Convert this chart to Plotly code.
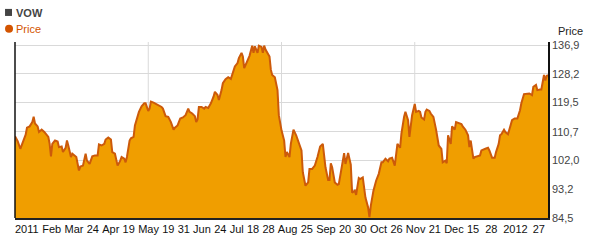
import plotly.graph_objects as go

# ---- data ----
day = [0, 2, 4, 6, 8, 9, 11, 13, 14, 15, 17, 18, 20, 22, 25, 26, 27, 28, 30, 32, 33, 35, 36, 38, 39, 40,
       42, 43, 45, 46, 48, 49, 51, 53, 54, 56, 58, 60, 62, 63, 65, 67, 68, 70, 72, 73, 75, 76, 77, 79, 80,
       82, 83, 84, 86, 87, 89, 90, 92, 93, 95, 97, 98, 100, 101, 102, 104, 106, 108, 110, 111, 113, 115,
       117, 119, 120, 122, 124, 126, 128, 130, 131, 133, 135, 136, 137, 138, 140, 142, 143, 145, 147, 149,
       150, 152, 153, 155, 156, 158, 160, 162, 163, 165, 167, 168, 170, 171, 172, 173, 175, 176, 178, 179,
       180, 182, 183, 185, 186, 187, 188, 190, 191, 192, 193, 195, 197, 198, 200, 202, 203, 204, 206, 207,
       209, 211, 213, 215, 216, 218, 220, 221, 223, 225, 227, 229, 231, 232, 233, 235, 236, 237, 238, 240,
       242, 243, 245, 247, 248, 250, 252, 253, 255, 256, 258, 259, 261, 262, 263, 265, 266, 267, 269, 271,
       273, 275, 276, 278, 280, 281, 283, 285, 286, 287, 289, 290, 292, 293, 295, 296, 298, 299, 300, 301,
       303, 304, 305, 307, 308, 309, 311, 312, 314, 316, 318, 320, 321, 323, 324, 325, 327, 328, 330, 331,
       333, 335, 336, 338, 340, 341, 342, 344, 345, 347, 349, 350, 352, 353, 355, 356, 358, 360, 361, 363,
       364, 365, 367, 368, 370, 372, 373, 375, 377, 379, 380, 382, 384, 386, 388, 389, 391, 392, 394, 395,
       397, 398, 399, 400]
price = [109.3, 107.8, 105.5, 108.0, 109.8, 111.9, 112.3, 113.6, 115.2, 113.2, 112.3, 110.6, 111.3, 110.6,
         109.1, 107.0, 103.2, 107.0, 108.0, 107.7, 106.0, 106.2, 104.5, 105.8, 108.0, 106.5, 103.0, 104.0,
         103.5, 103.0, 98.9, 100.1, 100.4, 104.0, 101.9, 100.9, 103.2, 103.5, 103.5, 106.8, 106.5, 107.0,
         108.3, 108.9, 108.3, 104.5, 104.0, 101.9, 100.4, 101.9, 103.0, 102.5, 101.4, 103.0, 108.0, 108.7,
         109.1, 112.6, 115.7, 116.7, 118.4, 119.3, 119.3, 117.0, 117.7, 119.8, 119.5, 119.1, 118.8, 118.2,
         117.7, 115.4, 115.2, 113.6, 111.3, 111.9, 112.6, 114.7, 115.0, 115.7, 117.7, 116.7, 116.2, 115.4,
         113.6, 114.4, 118.2, 118.2, 117.7, 118.2, 117.9, 119.3, 121.3, 122.8, 121.8, 120.3, 123.3, 125.4,
         126.6, 127.2, 126.7, 127.9, 130.5, 131.5, 133.0, 134.6, 133.5, 130.0, 131.0, 133.0, 133.7, 136.8,
         134.6, 136.6, 134.6, 136.8, 136.4, 134.6, 136.8, 135.6, 134.0, 133.5, 129.5, 127.9, 127.2, 123.3,
         115.7, 111.1, 108.0, 103.0, 104.5, 103.0, 107.0, 111.3, 109.6, 107.5, 105.0, 98.4, 94.3, 95.3,
         99.4, 99.4, 100.4, 103.0, 106.2, 107.0, 104.0, 99.9, 96.0, 96.0, 101.1, 99.9, 95.3, 94.6, 94.8,
         100.1, 104.2, 100.9, 104.2, 100.7, 92.2, 92.8, 91.5, 96.6, 96.3, 96.8, 93.8, 90.7, 87.7, 84.8,
         88.2, 92.8, 95.8, 97.9, 101.4, 101.4, 102.5, 101.7, 102.5, 102.8, 100.4, 104.0, 107.0, 105.8,
         110.1, 115.2, 116.7, 114.2, 109.1, 115.7, 117.7, 119.1, 116.7, 117.0, 116.7, 115.0, 114.4, 116.7,
         117.4, 117.0, 116.2, 115.2, 111.3, 106.5, 105.5, 101.4, 101.9, 101.1, 109.6, 107.0, 112.3, 111.3,
         113.6, 113.3, 113.0, 112.3, 111.3, 109.6, 106.0, 108.0, 102.5, 103.0, 103.2, 103.5, 105.0, 105.5,
         105.5, 105.8, 105.0, 102.8, 102.8, 104.5, 107.0, 109.6, 109.9, 111.3, 110.6, 109.9, 112.3, 114.2,
         114.7, 114.7, 117.2, 119.3, 122.1, 122.3, 122.3, 121.8, 124.3, 124.9, 123.3, 123.5, 123.5, 127.9,
         126.2, 127.6, 127.9]

x_labels = ["2011", "Feb", "Mar", "24", "Apr", "19", "May", "19", "31", "Jun", "24", "Jul", "18", "28",
            "Aug", "25", "Sep", "20", "30", "Oct", "26", "Nov", "21", "Dec", "15", "28", "2012", "27"]
y_ticks = [84.5, 93.2, 102.0, 110.7, 119.5, 128.2, 136.9]
y_labels = ["84,5", "93,2", "102,0", "110,7", "119,5", "128,2", "136,9"]
series_name = "Price"
symbol = "VOW"

# ---- layout constants ----
FONT = "Arial, Liberation Sans, sans-serif"
LINE = "#cc5a0a"
FILL = "#f09e00"
# label centres along the axis (in day units, derived from where the labels sit)
label_px = [27.3, 52.2, 74.5, 93.4, 111.3, 129.3, 149.1, 168.9, 184.4, 202.6, 220.9, 237.3, 253.7, 269.2,
            288.3, 307.5, 326.6, 345.8, 361.3, 379.3, 397.3, 416.4, 435.6, 454.7, 473.9, 492.1, 516.2, 539.6]
tickvals_x = [(p - 15.5) * 0.75 for p in label_px]

fig = go.Figure()
fig.add_trace(go.Scatter(
    x=day, y=price, mode="lines", name=series_name,
    line=dict(color=LINE, width=2), fill="tozeroy", fillcolor=FILL,
    hoverinfo="skip",
))

for gx in [100, 200, 300]:
    fig.add_shape(type="line", xref="x", yref="paper", x0=gx, x1=gx, y0=0, y1=1,
                  line=dict(color="#d9d9d9", width=1), layer="below")

fig.update_layout(
    width=600, height=247,
    margin=dict(l=15, r=52, t=42, b=29),
    paper_bgcolor="white", plot_bgcolor="white",
    showlegend=False,
    font=dict(family=FONT, size=11, color="#222"),
    xaxis=dict(
        range=[0, 400], tickmode="array", tickvals=tickvals_x, ticktext=x_labels,
        showgrid=False, zeroline=False, showline=True, linecolor="#222", linewidth=1.5,
        ticks="", tickfont=dict(size=11, color="#111"), mirror=False,
    ),
    yaxis=dict(
        range=[84.5, 137.9], side="right", tickmode="array", tickvals=y_ticks, ticktext=y_labels,
        showgrid=True, gridcolor="#d9d9d9", gridwidth=1, zeroline=False,
        showline=True, linecolor="#111", linewidth=1.5, ticks="",
        tickfont=dict(size=11, color="#444"),
    ),
    shapes=list(fig.layout.shapes) + [
        dict(type="line", xref="paper", yref="paper", x0=0, x1=0, y0=0, y1=1,
             line=dict(color="#111", width=1.5)),
        dict(type="rect", xref="paper", yref="paper", x0=-0.0187, x1=-0.0056, y0=1.148, y1=1.188,
             line=dict(width=0), fillcolor="#444"),
        dict(type="circle", xref="paper", yref="paper", x0=-0.0187, x1=-0.0037, y0=1.052, y1=1.098,
             line=dict(width=0), fillcolor="#d35400"),
    ],
    annotations=[
        dict(text="<b>" + symbol + "</b>", xref="paper", yref="paper", x=-0.001, y=1.167,
             xanchor="left", yanchor="middle", showarrow=False,
             font=dict(size=11, color="#444", family=FONT)),
        dict(text=series_name, xref="paper", yref="paper", x=-0.002, y=1.074,
             xanchor="left", yanchor="middle", showarrow=False,
             font=dict(size=11, color="#d35400", family=FONT)),
        dict(text=series_name, xref="paper", yref="paper", x=1.015, y=1.065,
             xanchor="left", yanchor="middle", showarrow=False,
             font=dict(size=11, color="#222", family=FONT)),
    ],
)

fig.write_html("out.html")
